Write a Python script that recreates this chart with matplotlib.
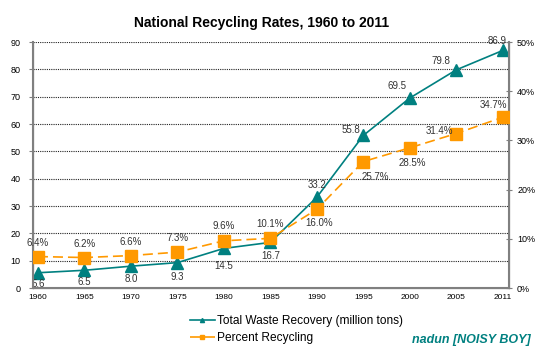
import matplotlib.pyplot as plt
import numpy as np

years = ["1960", "1965", "1970", "1975", "1980", "1985", "1990", "1995", "2000", "2005", "2011"]
recovery = [5.6, 6.5, 8.0, 9.3, 14.5, 16.7, 33.2, 55.8, 69.5, 79.8, 86.9]
percent = [6.4, 6.2, 6.6, 7.3, 9.6, 10.1, 16.0, 25.7, 28.5, 31.4, 34.7]

# label offsets (points) for each data label
rec_off = [(0, -8), (0, -8.5), (0, -9), (0, -10), (0, -13), (0, -10),
           (0, 9), (-9, 4), (-9, 9), (-11, 6.5), (-4, 7)]
pct_off = [(0, 10), (0, 10), (0, 10), (0, 10), (0, 10.5), (0, 10),
           (2, -10), (9, -11), (2, -11), (-12, 2), (-7, 9)]

teal = "#008080"
orange = "#FF9900"

plt.rcParams["font.family"] = ["Liberation Sans", "DejaVu Sans"]

fig = plt.figure(figsize=(5.5, 3.5), dpi=100)
ax = fig.add_axes([0.06, 0.177, 0.865, 0.703])
ax2 = ax.twinx()

x = np.arange(len(years))
l1, = ax.plot(x, recovery, color=teal, lw=1.2, marker="^", ms=8.5, zorder=3)
l2, = ax2.plot(x, percent, color=orange, lw=1.2, ls=(0, (6, 3)), marker="s", ms=8.5, zorder=3)

for xi, v, (dx, dy) in zip(x, recovery, rec_off):
    ax.annotate(f"{v:.1f}", (xi, v), xytext=(dx, dy), textcoords="offset points",
                ha="center", va="center", fontsize=7, color="#333333")
for xi, v, (dx, dy) in zip(x, percent, pct_off):
    ax2.annotate(f"{v:.1f}%", (xi, v), xytext=(dx, dy), textcoords="offset points",
                 ha="center", va="center", fontsize=7, color="#333333")

ax.set_xlim(-0.107, 10.13)
ax.set_ylim(0, 90)
ax2.set_ylim(0, 50)
ax.set_xticks(x)
ax.set_xticklabels(years, fontsize=6)
ax.set_yticks(range(0, 91, 10))
ax.tick_params(axis="y", labelsize=6.5, length=3, color="#808080", pad=6)
ax.tick_params(axis="x", length=0, pad=4)
ax2.set_yticks(range(0, 51, 10))
ax2.set_yticklabels([f"{v}%" for v in range(0, 51, 10)])
ax2.tick_params(axis="y", labelsize=6.5, length=5, direction="inout", color="#808080")

ax.yaxis.grid(True, ls=(0, (1, 1)), color="#222222", lw=0.8)
ax.set_axisbelow(True)
for sp in ["left", "right", "bottom"]:
    ax2.spines[sp].set_color("#808080")
    ax2.spines[sp].set_linewidth(1.5)
ax2.spines["top"].set_visible(False)
ax.spines["top"].set_visible(False)

fig.suptitle("National Recycling Rates, 1960 to 2011", fontsize=10, fontweight="bold",
             x=0.475, y=0.955)

fig.legend([l1, l2], ["Total Waste Recovery (million tons)", "Percent Recycling"],
           loc="upper left", bbox_to_anchor=(0.325, 0.13), frameon=False, fontsize=8.6,
           handlelength=2.1, handletextpad=0.2, markerscale=0.35, labelspacing=0.4)
fig.text(0.75, 0.02, "nadun [NOISY BOY]", color=teal, fontsize=9, style="italic",
         fontweight="bold")

plt.savefig("out.png")
